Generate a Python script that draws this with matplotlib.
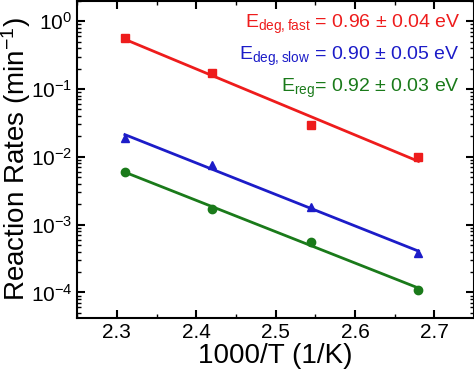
import numpy as np
import matplotlib
matplotlib.use("Agg")
import matplotlib.pyplot as plt
from matplotlib.ticker import LogLocator, NullFormatter, MultipleLocator

plt.rcParams['font.family'] = 'Liberation Sans'
plt.rcParams['mathtext.fontset'] = 'custom'
plt.rcParams['mathtext.rm'] = 'Liberation Sans'
plt.rcParams['mathtext.it'] = 'Liberation Sans:italic'

# data
inv_T = [2.31, 2.42, 2.545, 2.68]
k_fast = [0.57, 0.17, 0.029, 0.0101]
k_slow = [0.019, 0.0075, 0.0018, 0.00038]
k_reg = [0.006, 0.0017, 0.00055, 0.00011]

labels = [r'E$_{\mathrm{deg,fast}}$ = 0.96 $\pm$ 0.04 eV',
          r'E$_{\mathrm{deg,slow}}$ = 0.90 $\pm$ 0.05 eV',
          r'E$_{\mathrm{reg}}$= 0.92 $\pm$ 0.03 eV']
colors = ['#ee1c1c', '#1c1cc8', '#1a7a1a']
markers = ['s', '^', 'o']

fig = plt.figure(figsize=(4.74, 3.79), dpi=100)
ax = fig.add_axes([0.163, 0.161, 0.837, 0.837])

x = np.array(inv_T)
for k, c, m in zip([k_fast, k_slow, k_reg], colors, markers):
    k = np.array(k)
    p = np.polyfit(x, np.log10(k), 1)
    xf = np.array([x[0], x[-1]])
    ax.plot(xf, 10 ** np.polyval(p, xf), color=c, lw=2)
    ax.plot(x, k, m, color=c, ms=6, ls='none')

ax.set_yscale('log')
ax.set_xlim(2.25, 2.75)
ax.set_ylim(4.2e-5, 2.0)
ax.xaxis.set_major_locator(MultipleLocator(0.1))
ax.xaxis.set_minor_locator(MultipleLocator(0.05))
ax.yaxis.set_major_locator(LogLocator(base=10, numticks=10))
ax.yaxis.set_minor_locator(LogLocator(base=10, subs=np.arange(2, 10), numticks=20))
ax.yaxis.set_minor_formatter(NullFormatter())
ax.tick_params(which='both', direction='in', top=True, right=True, labelsize=15)
ax.tick_params(which='major', length=6, width=1.5)
ax.tick_params(which='minor', length=3, width=1)
for s in ax.spines.values():
    s.set_linewidth(1.5)

ax.set_xlabel('1000/T (1/K)', fontsize=20, labelpad=1)
ax.set_ylabel('Reaction Rates (min$^{-1}$)', fontsize=20, va='center')
ax.yaxis.set_label_coords(-0.155, 0.5)

for i, (t, c) in enumerate(zip(labels, colors)):
    ax.text(0.965, 0.925 - i * 0.1, t, color=c, fontsize=14, ha='right', va='center',
            transform=ax.transAxes)

fig.savefig('out.png', dpi=100)
